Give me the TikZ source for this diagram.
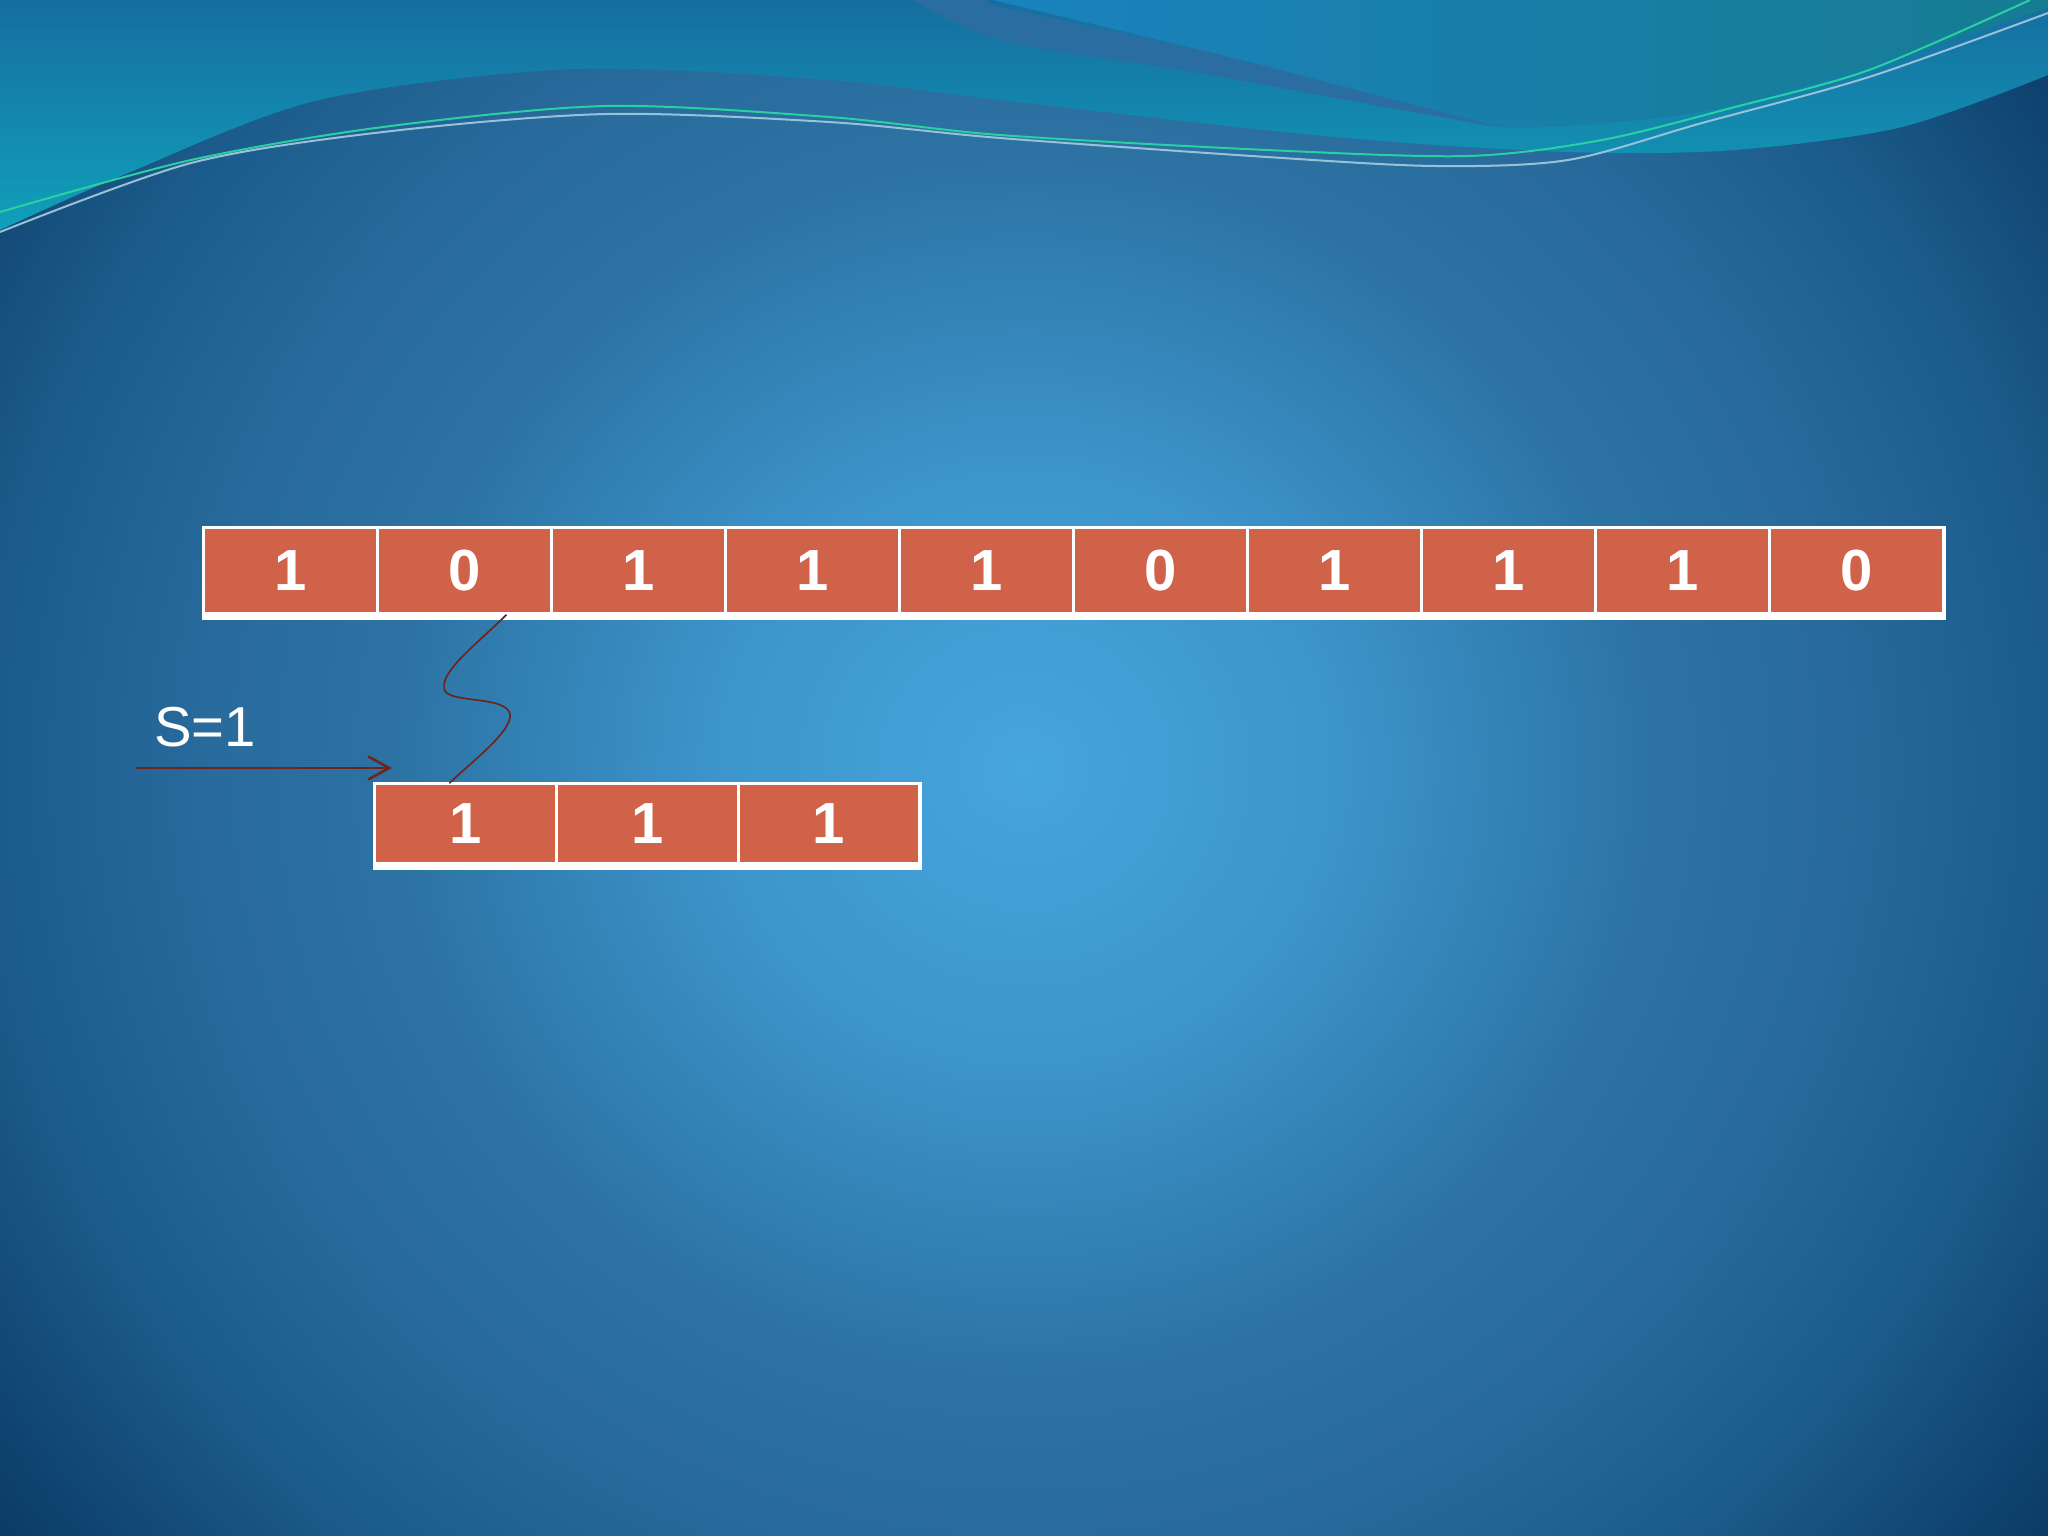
\documentclass[tikz,border=0pt]{standalone}
\usepackage{fontspec}
\setmainfont{Liberation Sans}
\usetikzlibrary{arrows.meta,calc}

\definecolor{cellorange}{RGB}{209,98,74}
\definecolor{wirebrown}{RGB}{108,38,30}
\definecolor{bgA}{HTML}{47A6DC}
\definecolor{bgB}{HTML}{3C94CA}
\definecolor{bgC}{HTML}{2C72A3}
\definecolor{bgD}{HTML}{286B9C}
\definecolor{bgE}{HTML}{1C5C8C}
\definecolor{bgF}{HTML}{0A3A64}
\definecolor{waveTop}{HTML}{166EA0}
\definecolor{waveLow}{HTML}{10A0BA}
\definecolor{waveBlue}{HTML}{1A82BE}
\definecolor{waveTeal}{HTML}{167C92}
\definecolor{bandBlue}{HTML}{2A6DA0}
\definecolor{lineGreen}{HTML}{2AD0A2}
\definecolor{lineGrey}{HTML}{98C2DA}

\pgfdeclareradialshading{slidebg}{\pgfpoint{0bp}{0bp}}{color(0bp)=(bgA); color(5.5bp)=(bgB); color(11bp)=(bgC); color(14bp)=(bgD); color(17.7bp)=(bgE); color(22.5bp)=(bgF); color(50bp)=(bgF)}

\begin{document}
\begin{tikzpicture}[x=0.01cm,y=-0.01cm,
  cell/.style={rectangle,fill=cellorange,text=white,inner sep=0pt,font=\fontsize{16.5}{18}\selectfont\bfseries},
  topcell/.style={cell,minimum width=1.71cm,minimum height=0.83cm},
  lowcell/.style={cell,minimum width=1.788cm,minimum height=0.767cm},
  wire/.style={wirebrown}]
\useasboundingbox (0,0) rectangle (2048,1536);
\begin{scope}
  \clip (0,0) rectangle (2048,1536);
  \shade[shading=slidebg] (-424,-632) rectangle (2472,2168);
\end{scope}

% waves at the top
\shade[top color=waveTop,bottom color=waveLow] (0,0) -- plot[smooth] coordinates {(0,230) (128,173) (319,100) (574,69) (829,80) (1000,100) (1334,137) (1568,152) (1735,150) (1902,127) (2048,75)} -- (2048,0) -- cycle;
\shade[left color=waveBlue,right color=waveTeal] (993,0) -- plot[smooth] coordinates {(993,0) (1200,50) (1368,93) (1501,127) (1700,112) (1870,66) (2048,8)} -- (2048,0) -- cycle;
\fill[bandBlue] plot[smooth] coordinates {(914,0) (1000,40) (1200,73) (1401,110) (1501,127)} -- plot[smooth] coordinates {(1501,127) (1368,93) (1200,50) (1000,7) (993,0)} -- cycle;
\draw[lineGreen,line width=0.2mm] plot[smooth] coordinates {(0,212) (191,160) (383,127) (606,106) (829,117) (1000,135) (1267,150) (1468,156) (1602,140) (1735,107) (1869,70) (2030,0)};
\draw[lineGrey,line width=0.2mm] plot[smooth] coordinates {(0,232) (191,163) (383,132) (606,114) (829,122) (1000,138) (1267,157) (1435,166) (1568,160) (1702,123) (1869,77) (2048,13)};

% bit strings
\fill[white] (202,526) rectangle (1945.5,620);
\fill[white] (373,782) rectangle (921.5,870);
\foreach \v [count=\i] in {1,0,1,1,1,0,1,1,1,0}
  \node[topcell] (t\i) at ({290.5+(\i-1)*174},570.5) {\v};
\foreach \v [count=\i] in {1,1,1}
  \node[lowcell] (b\i) at ({465.4+(\i-1)*181.8},823.4) {\v};

% stride
\node[text=white,font=\fontsize{16}{18}\selectfont] (slabel) at (205,727) {S=1};
\coordinate (sfrom) at (136,768);
\coordinate (sto) at (392,768);
\draw[wire,line width=0.26mm,-{Straight Barb[length=2.1mm,width=2.3mm]}] (sfrom) -- (sto);
\draw[wire,line width=0.17mm] ($(t2.south)+(42,2)$) .. controls (470,650) and (438,674) .. (445,691) .. controls (452,703) and (506,696) .. (510,714) .. controls (513,731) and (470,763) .. ($(b1.north)+(-16,-1)$);
\end{tikzpicture}
\end{document}
